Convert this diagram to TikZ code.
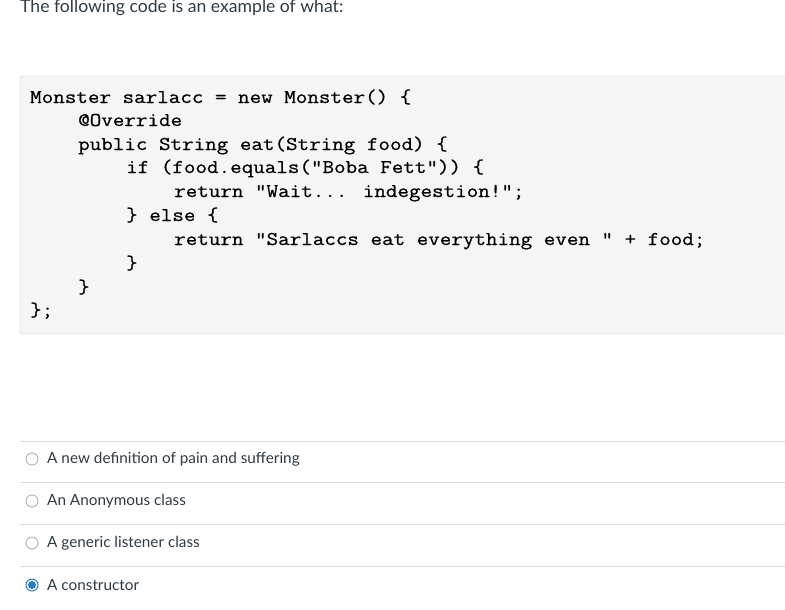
\documentclass[tikz,border=0pt]{standalone}
\usepackage{fontspec}
\setmainfont{Lato}
\newfontfamily\codefont[FakeStretch=1.15,FakeBold=0.6]{Latin Modern Mono}
\definecolor{txt}{HTML}{2D3B45}
\definecolor{codebg}{HTML}{F5F5F5}
\definecolor{codeline}{HTML}{C7CDD1}
\definecolor{sep}{HTML}{DDDDDD}
\definecolor{radio}{HTML}{2B7ABC}
\begin{document}
\begin{tikzpicture}[x=1pt,y=-1pt,
  code/.style={anchor=base west,inner sep=0pt,font=\codefont\fontsize{19.5}{20}\selectfont,text=black},
  opt/.style={anchor=west,inner sep=0pt,font=\fontsize{15.3}{18}\selectfont,text=txt},
  radiobtn/.style={circle,draw=gray!70,line width=0.8pt,minimum size=12pt,inner sep=0pt}]
\useasboundingbox (0,0) rectangle (785,610);
\node[anchor=west,inner sep=0pt,font=\fontsize{17.6}{20}\selectfont,text=txt] (title) at (20,8) {The following code is an example of what:};
\draw[codeline,fill=codebg,rounded corners=3pt] (20,76) rectangle (800,334);
\node[code] (l1) at (30,103) {Monster sarlacc = new Monster() \{};
\node[code] (l2) at (78,126) {@Override};
\node[code] (l3) at (78,150) {public String eat(String food) \{};
\node[code] (l4) at (126,173) {if (food.equals("Boba Fett")) \{};
\node[code] (l5) at (174,197) {return "Wait... indegestion!";};
\node[code] (l6) at (126,221) {\} else \{};
\node[code] (l7) at (174,245) {return "Sarlaccs eat everything even " + food;};
\node[code] (l8) at (126,269) {\}};
\node[code] (l9) at (78,293) {\}};
\node[code] (l10) at (30,316) {\};};
\foreach \y in {441,482,524,566} \draw[sep] (20,\y) -- (785,\y);
\node[radiobtn] (r1) at (32,459) {};
\node[radiobtn] (r2) at (32,501) {};
\node[radiobtn] (r3) at (32,543) {};
\node[radiobtn,draw=radio,line width=1pt] (r4) at (32,585) {};
\fill[radio] (r4.center) circle (4pt);
\node[opt] (o1) at (47,459) {A new definition of pain and suffering};
\node[opt] (o2) at (47,501) {An Anonymous class};
\node[opt] (o3) at (47,543) {A generic listener class};
\node[opt] (o4) at (47,585) {A constructor};
\end{tikzpicture}
\end{document}
